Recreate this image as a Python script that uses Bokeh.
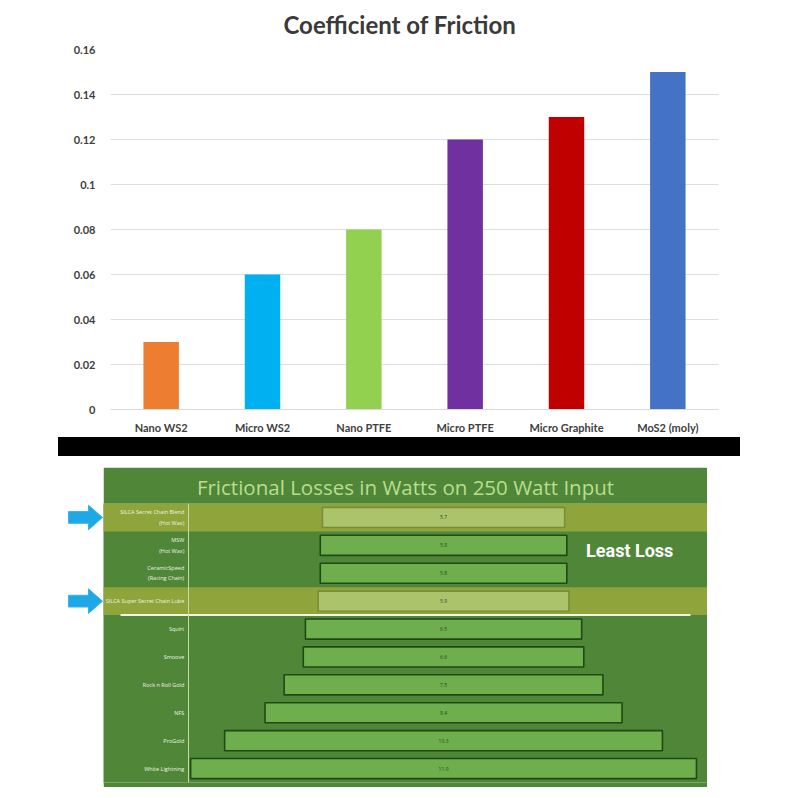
from bokeh.plotting import figure
from bokeh.layouts import column, row
from bokeh.models import (ColumnDataSource, FixedTicker, CustomJSTickFormatter,
                          Range1d, Div, Span, Label)
from bokeh.core.properties import value
from bokeh.embed import file_html
from bokeh.resources import INLINE

# ---------------- data: top chart ----------------
materials = ["Nano WS2", "Micro WS2", "Nano PTFE", "Micro PTFE", "Micro Graphite", "MoS2 (moly)"]
cof = [0.03, 0.06, 0.08, 0.12, 0.13, 0.15]
bar_colors = ["#ED7D31", "#00B0F0", "#92D050", "#7030A0", "#C00000", "#4472C4"]
cof_ticks = [0, 0.02, 0.04, 0.06, 0.08, 0.1, 0.12, 0.14, 0.16]

# ---------------- data: bottom chart ----------------
lubes = ["SILCA Secret Chain Blend\n(Hot Wax)", "MSW\n(Hot Wax)", "CeramicSpeed\n(Racing Chain)",
         "SILCA Super Secret Chain Lube", "Squirt", "Smoove", "Rock n Roll Gold", "NFS",
         "ProGold", "White Lightning"]
watts = [5.7, 5.8, 5.8, 5.9, 6.5, 6.6, 7.5, 8.4, 10.3, 11.9]
is_silca = [True, False, False, True, False, False, False, False, False, False]
least_loss_count = 4
callout = "Least Loss"

# ---------------- top chart ----------------
FONT = "Lato"
src1 = ColumnDataSource(dict(m=materials, v=cof, c=bar_colors))
p1 = figure(x_range=materials, y_range=Range1d(0, 0.16), width=790, height=436,
            min_border_left=110, min_border_right=72, min_border_top=49, min_border_bottom=27,
            toolbar_location=None, output_backend="svg", outline_line_color=None,
            title="Coefficient of Friction")
p1.vbar(x="m", top="v", width=0.35, fill_color="c", line_color=None, source=src1)
p1.title.align = "left"
p1.title.offset = 173
p1.title.vertical_align = "top"
p1.title.text_font = FONT
p1.title.text_font_size = "24px"
p1.title.text_font_style = "bold"
p1.title.text_color = "#3a3a3a"
p1.title.standoff = 17
p1.yaxis.ticker = FixedTicker(ticks=cof_ticks)
p1.yaxis.formatter = CustomJSTickFormatter(code="return tick.toString();")
p1.yaxis.axis_line_color = None
p1.yaxis.major_tick_line_color = None
p1.yaxis.minor_tick_line_color = None
p1.yaxis.major_label_standoff = 9
p1.xaxis.axis_line_color = "#d9d9d9"
p1.xaxis.major_tick_line_color = None
p1.xaxis.major_label_standoff = 5
for ax in (p1.xaxis, p1.yaxis):
    ax.major_label_text_font = FONT
    ax.major_label_text_font_style = "bold"
    ax.major_label_text_color = "#404040"
p1.yaxis.major_label_text_font_size = "11px"
p1.xaxis.major_label_text_font_size = "11px"
p1.xgrid.visible = False
p1.ygrid.grid_line_color = "#dedede"
p1.ygrid.ticker = FixedTicker(ticks=cof_ticks)

# ---------------- separator band ----------------
band = Div(text="", width=682, height=19, margin=(1, 0, 11, 58),
           styles={"background-color": "#000000"})

# ---------------- bottom chart ----------------
GREEN = "#508638"
HIL = "#8fa53c"
n = len(lubes)
idx = list(range(n))
half = [w / 2 for w in watts]
src2 = ColumnDataSource(dict(
    y=idx, left=[-h for h in half], right=half, name=lubes,
    lab=[f"{w:.1f}" for w in watts],
    fill=["#abc46c" if s else "#6eae4d" for s in is_silca],
    line=["#7c8c35" if s else "#1f4a15" for s in is_silca],
))
XL, XR = -8.0, 6.21
p2 = figure(width=604, height=320, x_range=Range1d(XL, XR), y_range=Range1d(n - 0.5, -0.5),
            min_border_left=0, min_border_right=0, min_border_top=36, min_border_bottom=5,
            background_fill_color=GREEN, border_fill_color=GREEN, outline_line_color=None,
            x_axis_type=None, y_axis_type=None, toolbar_location=None, output_backend="svg",
            title="Frictional Losses in Watts on 250 Watt Input")
p2.grid.visible = False
p2.title.align = "center"
p2.title.text_font = "Open Sans"
p2.title.text_font_size = "20.5px"
p2.title.text_font_style = "normal"
p2.title.text_color = "#b9de8e"
p2.title.standoff = 6

hl_rows = [i for i, s in zip(idx, is_silca) if s]
p2.hbar(y=hl_rows, left=XL, right=XR, height=1.0, fill_color=HIL, line_color=None)
p2.add_layout(Span(location=-6.0, dimension="height", line_color="#c9dba3", line_width=1))
p2.hbar(y="y", left="left", right="right", height=0.72, fill_color="fill",
        line_color="line", line_width=1.6, source=src2)
p2.text(x=0, y="y", text="lab", source=src2, text_font=value("Open Sans"),
        text_font_size="5px", text_color="#2c4a1a", text_align="center",
        text_baseline="middle")
p2.text(x=-6.1, y="y", text="name", source=src2, text_font=value("Open Sans"),
        text_font_size="5.5px", text_color="#eef4e2", text_align="right",
        text_baseline="middle", text_line_height=1.3)
p2.segment(x0=-7.6, x1=5.81, y0=least_loss_count - 0.5, y1=least_loss_count - 0.5,
           line_color="#f2f4e4", line_width=2)
p2.add_layout(Label(x=4.38, y=1.2, text=callout, text_font="Liberation Sans Narrow, Roboto",
                    text_font_size="18px", text_font_style="bold", text_color="#ffffff",
                    text_align="center", text_baseline="middle"))

# arrows pointing at the SILCA rows
p3 = figure(width=103, height=320, x_range=Range1d(0, 103), y_range=p2.y_range,
            min_border_left=0, min_border_right=0, min_border_top=36, min_border_bottom=5,
            x_axis_type=None, y_axis_type=None, outline_line_color=None,
            toolbar_location=None, output_backend="svg")
p3.grid.visible = False
xs, ys = [], []
for r in hl_rows:
    xs.append([68, 88, 88, 102, 88, 88, 68])
    ys.append([r - 0.21, r - 0.21, r - 0.44, r, r + 0.44, r + 0.21, r + 0.21])
p3.patches(xs, ys, fill_color="#1ea8e6", line_color="#35b4ea", line_width=1)

layout = column(p1, band, row(p3, p2))
open("out.html", "w").write(file_html(layout, INLINE))
